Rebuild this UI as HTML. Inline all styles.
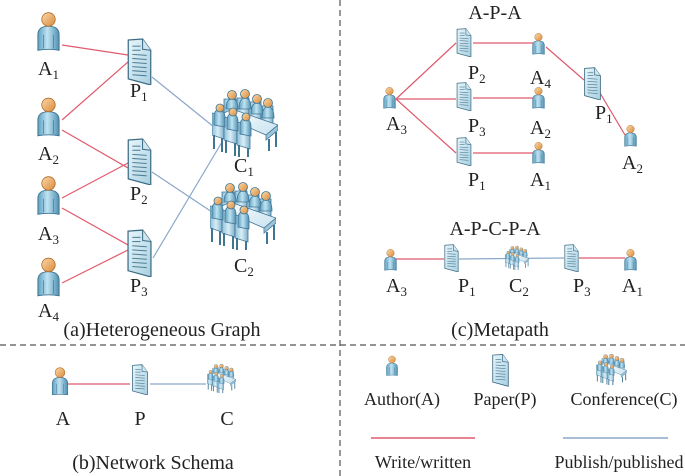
<!DOCTYPE html>
<html><head><meta charset="utf-8"><style>
html,body{margin:0;padding:0;background:#fff;}
svg{display:block;}
text{font-family:"Liberation Serif",serif;fill:#222;}
</style></head><body>
<svg width="685" height="476" viewBox="0 0 685 476" xmlns="http://www.w3.org/2000/svg">
<defs>
<linearGradient id="hg" x1="0" y1="0" x2="1" y2="1"><stop offset="0" stop-color="#fbd9a8"/><stop offset="1" stop-color="#d98a3c"/></linearGradient>
<linearGradient id="bg" x1="0" y1="0" x2="1" y2="0"><stop offset="0" stop-color="#5f9fbf"/><stop offset="0.45" stop-color="#bfe3f2"/><stop offset="1" stop-color="#4f8fb1"/></linearGradient>
<linearGradient id="cg" x1="0" y1="0" x2="1" y2="0"><stop offset="0" stop-color="#8fbfd8"/><stop offset="0.5" stop-color="#d8eef8"/><stop offset="1" stop-color="#7fb0cc"/></linearGradient>
<linearGradient id="pg" x1="0" y1="0" x2="1" y2="1"><stop offset="0" stop-color="#e8f6fb"/><stop offset="1" stop-color="#a8cfe0"/></linearGradient>
<linearGradient id="tg" x1="0" y1="0" x2="1" y2="1"><stop offset="0" stop-color="#ffffff"/><stop offset="1" stop-color="#c8e2f0"/></linearGradient>
<symbol id="person" viewBox="0 0 28 40">
<path d="M3,40 L3,24 Q3,15 14,15 Q25,15 25,24 L25,40 Q14,38 3,40 Z" fill="url(#bg)" stroke="#3f7694" stroke-width="1"/>
<path d="M9,24 L9,38 M19,24 L19,38" stroke="#3f7694" stroke-width="0.7"/>
<circle cx="14" cy="8" r="7" fill="url(#hg)" stroke="#b06a2a" stroke-width="0.8"/>
</symbol>
<symbol id="paper" viewBox="0 0 24 46">
<path d="M1,2 L15,1 L23,12 L23,46 L1,40 Z" fill="url(#pg)" stroke="#3d6c85" stroke-width="1.2"/>
<path d="M15,1 L15,11 L23,12" fill="#cfe6f0" stroke="#3d6c85" stroke-width="1"/>
<g stroke="#4f7f98" stroke-width="1">
<line x1="5" y1="8" x2="13" y2="8"/><line x1="5" y1="12" x2="13" y2="12"/>
<line x1="5" y1="16" x2="19" y2="17"/><line x1="5" y1="20" x2="19" y2="21"/>
<line x1="5" y1="24" x2="19" y2="25"/><line x1="5" y1="28" x2="19" y2="29"/>
<line x1="5" y1="32" x2="19" y2="33"/><line x1="5" y1="36" x2="19" y2="37"/>
</g>
</symbol>
<symbol id="conf" viewBox="0 0 66 70">
<g stroke="#3f7694" stroke-width="0.8">
<!-- back chairs -->
<path d="M12,28 L12,12 L24,12 L24,24 Z" fill="url(#cg)"/>
<path d="M25,26 L25,11 L37,11 L37,30 Z" fill="url(#cg)"/>
<path d="M37,30 L37,15 L49,15 L49,35 Z" fill="url(#cg)"/>
<path d="M49,35 L49,19 L61,19 L61,40 Z" fill="url(#cg)"/>
<!-- back people -->
<path d="M14,22 Q14,12 20,12 Q26,12 26,22 Z" fill="url(#bg)"/>
<path d="M27,22 Q27,11 33,11 Q39,11 39,22 Z" fill="url(#bg)"/>
<path d="M39,27 Q39,16 45,16 Q51,16 51,27 Z" fill="url(#bg)"/>
<path d="M50,31 Q50,20 56,20 Q62,20 62,31 Z" fill="url(#bg)"/>
<circle cx="20" cy="8" r="4.5" fill="url(#hg)"/><circle cx="33" cy="7" r="4.5" fill="url(#hg)"/>
<circle cx="45" cy="12" r="4.5" fill="url(#hg)"/><circle cx="56" cy="16" r="4.5" fill="url(#hg)"/>
<!-- table -->
<polygon points="8,28 20,22 66,38 54,48" fill="url(#tg)"/>
<polygon points="54,48 66,38 66,43 54,53" fill="#9cc4da"/>
<path d="M57,52 L57,64 M64,45 L64,60" stroke-width="2"/>
<!-- front chairs -->
<path d="M0,26 L12,28 L12,52 L0,48 Z" fill="url(#cg)"/>
<path d="M12,30 L25,33 L25,57 L12,53 Z" fill="url(#cg)"/>
<path d="M25,35 L38,38 L38,62 L25,58 Z" fill="url(#cg)"/>
<path d="M2,30 Q2,22 8,23 Q13,24 13,31 L13,40 L2,38 Z" fill="url(#bg)"/>
<path d="M15,34 Q15,26 21,27 Q26,28 26,35 L26,44 L15,42 Z" fill="url(#bg)"/>
<path d="M28,39 Q28,31 34,32 Q39,33 39,40 L39,49 L28,47 Z" fill="url(#bg)"/>
<path d="M2,48 L2,62 M10,51 L10,65 M14,53 L14,66 M23,56 L23,69 M27,58 L27,70 M36,61 L36,70" stroke-width="2"/>
<circle cx="8" cy="21" r="4" fill="url(#hg)"/><circle cx="21" cy="25" r="4" fill="url(#hg)"/><circle cx="34" cy="30" r="4" fill="url(#hg)"/>
</g>
</symbol>
</defs>

<line x1="340" y1="0" x2="340" y2="476" stroke="#555" stroke-width="1.2" stroke-dasharray="6,4"/>
<line x1="0" y1="345" x2="685" y2="345" stroke="#555" stroke-width="1.2" stroke-dasharray="6,4"/>

<g stroke="#e05a6e" stroke-width="1.2">
<line x1="62" y1="45" x2="128" y2="55"/><line x1="62" y1="120" x2="128" y2="62"/>
<line x1="62" y1="130" x2="128" y2="168"/><line x1="62" y1="198" x2="128" y2="163"/>
<line x1="62" y1="208" x2="128" y2="245"/><line x1="62" y1="283" x2="128" y2="250"/>
</g>
<g stroke="#8ba8c8" stroke-width="1.2">
<line x1="152" y1="77" x2="214" y2="127"/><line x1="152" y1="172" x2="212" y2="212"/>
<line x1="153" y1="258" x2="222" y2="142"/>
</g>
<use href="#person" x="35" y="11" width="27" height="40"/>
<use href="#person" x="35" y="93" width="27" height="47"/>
<use href="#person" x="35" y="172" width="27" height="46"/>
<use href="#person" x="35" y="253" width="27" height="47"/>
<use href="#paper" x="127" y="38" width="25" height="47"/>
<use href="#paper" x="127" y="138" width="25" height="47"/>
<use href="#paper" x="127" y="229" width="25" height="48"/>
<use href="#conf" x="212" y="87" width="66" height="70" preserveAspectRatio="none"/>
<use href="#conf" x="210" y="180" width="66" height="70" preserveAspectRatio="none"/>
<g font-size="20">
<text x="38" y="75">A<tspan font-size="13" dy="4">1</tspan></text>
<text x="38" y="160">A<tspan font-size="13" dy="4">2</tspan></text>
<text x="38" y="240">A<tspan font-size="13" dy="4">3</tspan></text>
<text x="38" y="317">A<tspan font-size="13" dy="4">4</tspan></text>
<text x="130" y="97">P<tspan font-size="13" dy="4">1</tspan></text>
<text x="130" y="200">P<tspan font-size="13" dy="4">2</tspan></text>
<text x="130" y="292">P<tspan font-size="13" dy="4">3</tspan></text>
<text x="234" y="172">C<tspan font-size="13" dy="4">1</tspan></text>
<text x="234" y="272">C<tspan font-size="13" dy="4">2</tspan></text>
</g>
<text x="162" y="336" font-size="20" text-anchor="middle">(a)Heterogeneous Graph</text>

<text x="495" y="19" font-size="20" text-anchor="middle">A-P-A</text>
<g stroke="#e05a6e" stroke-width="1.2">
<line x1="396" y1="99" x2="456" y2="43"/><line x1="396" y1="99" x2="456" y2="99"/>
<line x1="396" y1="99" x2="456" y2="153"/>
<line x1="473" y1="43" x2="533" y2="43"/><line x1="473" y1="98" x2="533" y2="98"/>
<line x1="473" y1="153" x2="533" y2="153"/>
<line x1="546" y1="47" x2="584" y2="80"/><line x1="600" y1="93" x2="625" y2="135"/>
</g>
<use href="#person" x="382" y="85" width="15" height="25"/>
<use href="#paper" x="455" y="28" width="18" height="29"/>
<use href="#paper" x="455" y="82" width="18" height="29"/>
<use href="#paper" x="455" y="137" width="18" height="29"/>
<use href="#person" x="531" y="31" width="15" height="25"/>
<use href="#person" x="531" y="85" width="15" height="25"/>
<use href="#person" x="531" y="140" width="15" height="25"/>
<use href="#paper" x="583" y="67" width="19" height="33"/>
<use href="#person" x="623" y="123" width="15" height="25"/>
<g font-size="20">
<text x="386" y="130">A<tspan font-size="13" dy="4">3</tspan></text>
<text x="468" y="79">P<tspan font-size="13" dy="4">2</tspan></text>
<text x="530" y="84">A<tspan font-size="13" dy="4">4</tspan></text>
<text x="468" y="132">P<tspan font-size="13" dy="4">3</tspan></text>
<text x="530" y="134">A<tspan font-size="13" dy="4">2</tspan></text>
<text x="468" y="186">P<tspan font-size="13" dy="4">1</tspan></text>
<text x="530" y="186">A<tspan font-size="13" dy="4">1</tspan></text>
<text x="595" y="119">P<tspan font-size="13" dy="4">1</tspan></text>
<text x="622" y="169">A<tspan font-size="13" dy="4">2</tspan></text>
</g>
<text x="495" y="235" font-size="20" text-anchor="middle">A-P-C-P-A</text>
<line x1="396" y1="259" x2="444" y2="259" stroke="#e05a6e" stroke-width="1.2"/>
<line x1="459" y1="259" x2="564" y2="258" stroke="#8ba8c8" stroke-width="1.2"/>
<line x1="579" y1="258" x2="625" y2="258" stroke="#e05a6e" stroke-width="1.2"/>
<use href="#person" x="383" y="247" width="15" height="25"/>
<use href="#paper" x="443" y="244" width="17" height="28"/>
<use href="#conf" x="502" y="245" width="30" height="25" preserveAspectRatio="none"/>
<use href="#paper" x="563" y="244" width="17" height="28"/>
<use href="#person" x="623" y="247" width="15" height="25"/>
<g font-size="20">
<text x="386" y="292">A<tspan font-size="13" dy="4">3</tspan></text>
<text x="458" y="292">P<tspan font-size="13" dy="4">1</tspan></text>
<text x="509" y="292">C<tspan font-size="13" dy="4">2</tspan></text>
<text x="573" y="292">P<tspan font-size="13" dy="4">3</tspan></text>
<text x="622" y="292">A<tspan font-size="13" dy="4">1</tspan></text>
</g>
<text x="500" y="336" font-size="20" text-anchor="middle">(c)Metapath</text>

<line x1="68" y1="384" x2="130" y2="384" stroke="#e05a6e" stroke-width="1.2"/>
<line x1="150" y1="384" x2="206" y2="384" stroke="#8ba8c8" stroke-width="1.2"/>
<use href="#person" x="50" y="367" width="20" height="28"/>
<use href="#paper" x="129" y="364" width="22" height="31"/>
<use href="#conf" x="205" y="363" width="33" height="30" preserveAspectRatio="none"/>
<g font-size="20" text-anchor="middle">
<text x="63" y="425">A</text><text x="140" y="425">P</text><text x="227" y="425">C</text>
</g>
<text x="153" y="469" font-size="20" text-anchor="middle">(b)Network Schema</text>

<use href="#person" x="385" y="353" width="14" height="25"/>
<use href="#paper" x="492" y="353" width="17" height="34"/>
<use href="#conf" x="596" y="353" width="31" height="32" preserveAspectRatio="none"/>
<g font-size="18" text-anchor="middle">
<text x="402" y="405">Author(A)</text>
<text x="505" y="405">Paper(P)</text>
<text x="624" y="405">Conference(C)</text>
</g>
<line x1="371" y1="438" x2="475" y2="438" stroke="#e05a6e" stroke-width="1.5"/>
<line x1="563" y1="438" x2="668" y2="438" stroke="#8ba8c8" stroke-width="1.5"/>
<g font-size="18" text-anchor="middle">
<text x="423" y="468">Write/written</text>
<text x="619" y="468">Publish/published</text>
</g>
</svg>
</body></html>
